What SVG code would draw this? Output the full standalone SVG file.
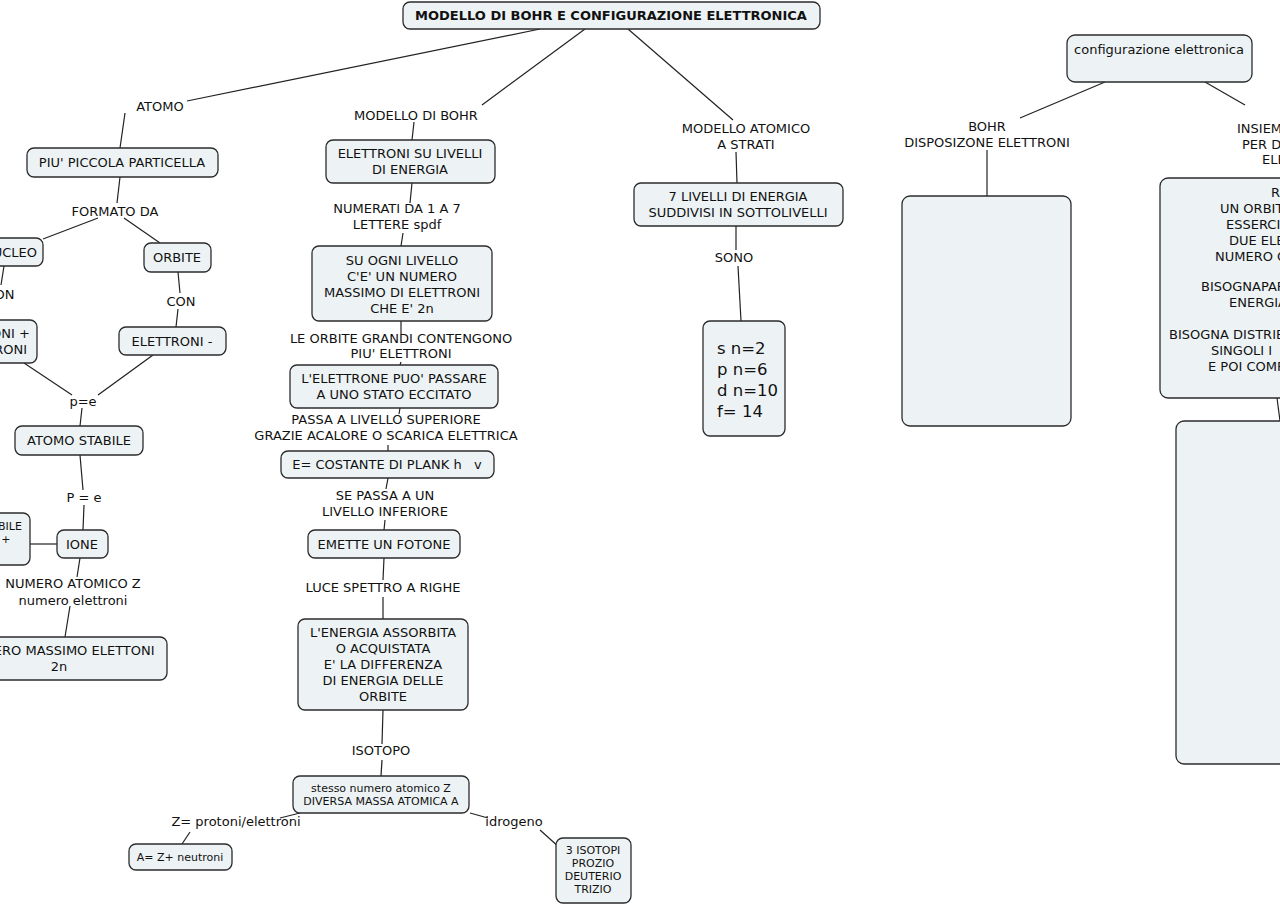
<svg xmlns="http://www.w3.org/2000/svg" width="1280" height="905" viewBox="0 0 1280 905">
<style>
.n{fill:#edf3f5;stroke:#2b2b2b;stroke-width:1.3}
text{font-family:"DejaVu Sans",Verdana,sans-serif;font-size:13px;fill:#111;text-anchor:middle}
.s{font-size:11px}
.b{font-weight:bold;font-size:13px}
.big{font-size:16.5px;text-anchor:start}
.st{text-anchor:start}
#c line{stroke:#222;stroke-width:1.2}
</style>
<rect width="1280" height="905" fill="#fff"/>
<g id="c">
<line x1="540" y1="29" x2="187" y2="101"/><line x1="125" y1="113" x2="120" y2="148"/>
<line x1="585" y1="29" x2="482" y2="105"/><line x1="414" y1="122" x2="412" y2="140"/>
<line x1="628" y1="29" x2="733" y2="120"/><line x1="736" y1="152" x2="737" y2="183"/>
<line x1="120" y1="177" x2="117" y2="203"/><line x1="98" y1="218" x2="43" y2="239"/><line x1="124" y1="218" x2="160" y2="243"/>
<line x1="4" y1="266" x2="1" y2="285"/>
<line x1="178" y1="272" x2="180" y2="293"/><line x1="178" y1="309" x2="176" y2="327"/>
<line x1="24" y1="363" x2="72" y2="395"/><line x1="153" y1="355" x2="98" y2="395"/>
<line x1="82" y1="408" x2="80" y2="426"/>
<line x1="80" y1="455" x2="83" y2="490"/><line x1="84" y1="505" x2="83" y2="530"/>
<line x1="57" y1="544" x2="30" y2="544"/>
<line x1="80" y1="558" x2="77" y2="577"/><line x1="70" y1="606" x2="65" y2="637"/>
<line x1="412" y1="183" x2="410" y2="203"/><line x1="403" y1="233" x2="401" y2="246"/>
<line x1="401" y1="321" x2="401" y2="334"/><line x1="401" y1="362" x2="400" y2="365"/>
<line x1="400" y1="408" x2="399" y2="414"/><line x1="388" y1="445" x2="388" y2="451"/>
<line x1="388" y1="478" x2="386" y2="489"/><line x1="385" y1="520" x2="384" y2="530"/>
<line x1="384" y1="558" x2="383" y2="580"/><line x1="383" y1="597" x2="383" y2="619"/>
<line x1="383" y1="710" x2="382" y2="744"/><line x1="382" y1="760" x2="381" y2="776"/>
<line x1="300" y1="813" x2="280" y2="818"/><line x1="190" y1="832" x2="182" y2="844"/>
<line x1="470" y1="813" x2="488" y2="818"/><line x1="540" y1="830" x2="560" y2="848"/>
<line x1="736" y1="226" x2="736" y2="250"/><line x1="738" y1="266" x2="741" y2="321"/>
<line x1="1105" y1="82" x2="1020" y2="118"/><line x1="1205" y1="82" x2="1245" y2="105"/>
<line x1="987" y1="150" x2="987" y2="196"/><line x1="1277" y1="398" x2="1280" y2="421"/>
</g>
<g id="title"><rect class="n" x="403" y="2" width="417" height="27" rx="7"/><text class="b" x="611" y="20">MODELLO DI BOHR E CONFIGURAZIONE ELETTRONICA</text></g>
<g id="labels">
<text x="160" y="111">ATOMO</text>
<text x="416" y="120">MODELLO DI BOHR</text>
<text x="746" y="133">MODELLO ATOMICO</text><text x="746" y="149">A STRATI</text>
<text x="987" y="131">BOHR</text><text x="987" y="147">DISPOSIZONE ELETTRONI</text>
<text class="st" x="1237" y="133">INSIEME DI REGOLE</text><text class="st" x="1242" y="149">PER DISPORRE GLI</text><text class="st" x="1262" y="164">ELETTRONI</text>
<text x="115" y="216">FORMATO DA</text>
<text x="0" y="299">CON</text><text x="181" y="306">CON</text>
<text x="83" y="406">p=e</text>
<text x="84" y="502">P = e</text>
<text x="73" y="588">NUMERO ATOMICO Z</text><text x="73" y="605">numero elettroni</text>
<text x="397" y="213">NUMERATI DA 1 A 7</text><text x="397" y="229">LETTERE spdf</text>
<text x="401" y="343">LE ORBITE GRANDI CONTENGONO</text><text x="401" y="358">PIU' ELETTRONI</text>
<text x="386" y="424">PASSA A LIVELLO SUPERIORE</text><text x="386" y="440">GRAZIE  ACALORE O SCARICA ELETTRICA</text>
<text x="385" y="500">SE PASSA A UN</text><text x="385" y="516">LIVELLO INFERIORE</text>
<text x="383" y="592">LUCE  SPETTRO A RIGHE</text>
<text x="381" y="755">ISOTOPO</text>
<text x="236" y="826">Z= protoni/elettroni</text>
<text x="514" y="826">idrogeno</text>
<text x="734" y="262">SONO</text>
</g>
<g id="n1"><rect class="n" x="27" y="148" width="191" height="29" rx="7"/><text x="122" y="167">PIU' PICCOLA PARTICELLA</text></g>
<g id="n2"><rect class="n" x="-20" y="238" width="63" height="28" rx="7"/><text x="10" y="257">NUCLEO</text></g>
<g id="n3"><rect class="n" x="144" y="243" width="67" height="29" rx="7"/><text x="177" y="262">ORBITE</text></g>
<g id="n4"><rect class="n" x="-50" y="320" width="87" height="43" rx="7"/><text x="-7" y="338">PROTONI +</text><text x="-7" y="354">NEUTRONI</text></g>
<g id="n5"><rect class="n" x="119" y="327" width="107" height="28" rx="7"/><text x="172" y="346">ELETTRONI -</text></g>
<g id="n6"><rect class="n" x="15" y="426" width="128" height="29" rx="7"/><text x="79" y="445">ATOMO STABILE</text></g>
<g id="n7"><rect class="n" x="-40" y="513" width="70" height="52" rx="7"/><text class="s" x="-6" y="530">INSTABILE</text><text class="s" x="-6" y="543">ION +</text></g>
<g id="n8"><rect class="n" x="57" y="530" width="51" height="28" rx="7"/><text x="82" y="549">IONE</text></g>
<g id="n9"><rect class="n" x="-49" y="637" width="216" height="43" rx="7"/><text x="59" y="655">NUMERO MASSIMO ELETTONI</text><text x="59" y="671">2n</text></g>
<g id="m1"><rect class="n" x="326" y="140" width="169" height="43" rx="7"/><text x="410" y="158">ELETTRONI SU LIVELLI</text><text x="410" y="174">DI ENERGIA</text></g>
<g id="m2"><rect class="n" x="312" y="246" width="180" height="75" rx="7"/><text x="402" y="265">SU OGNI LIVELLO</text><text x="402" y="281">C'E' UN NUMERO</text><text x="402" y="297">MASSIMO DI ELETTRONI</text><text x="402" y="313">CHE E' 2n</text></g>
<g id="m3"><rect class="n" x="290" y="365" width="208" height="43" rx="7"/><text x="394" y="383">L'ELETTRONE PUO' PASSARE</text><text x="394" y="399">A UNO STATO ECCITATO</text></g>
<g id="m4"><rect class="n" x="281" y="451" width="213" height="27" rx="7"/><text x="387" y="469" xml:space="preserve">E= COSTANTE DI PLANK h   v</text></g>
<g id="m5"><rect class="n" x="308" y="530" width="152" height="28" rx="7"/><text x="384" y="549">EMETTE UN FOTONE</text></g>
<g id="m6"><rect class="n" x="298" y="619" width="170" height="91" rx="7"/><text x="383" y="637">L'ENERGIA ASSORBITA</text><text x="383" y="653">O ACQUISTATA</text><text x="383" y="669">E' LA DIFFERENZA</text><text x="383" y="685">DI ENERGIA DELLE</text><text x="383" y="701">ORBITE</text></g>
<g id="m7"><rect class="n" x="293" y="776" width="176" height="37" rx="7"/><text class="s" x="381" y="792">stesso numero atomico Z</text><text class="s" x="381" y="805">DIVERSA MASSA ATOMICA A</text></g>
<g id="m8"><rect class="n" x="129" y="844" width="103" height="26" rx="7"/><text class="s" x="180" y="861">A= Z+ neutroni</text></g>
<g id="m9"><rect class="n" x="556" y="838" width="75" height="65" rx="7"/><text class="s" x="593" y="854">3 ISOTOPI</text><text class="s" x="593" y="867">PROZIO</text><text class="s" x="593" y="880">DEUTERIO</text><text class="s" x="593" y="893">TRIZIO</text></g>
<g id="r1"><rect class="n" x="634" y="183" width="209" height="43" rx="7"/><text x="738" y="201">7 LIVELLI DI ENERGIA</text><text x="738" y="217">SUDDIVISI IN SOTTOLIVELLI</text></g>
<g id="r2"><rect class="n" x="703" y="321" width="82" height="115" rx="7"/><text class="big" x="717" y="354">s n=2</text><text class="big" x="717" y="375">p n=6</text><text class="big" x="717" y="396">d n=10</text><text class="big" x="717" y="417">f= 14</text></g>
<g id="k1"><rect class="n" x="1067" y="35" width="185" height="47" rx="8"/><text x="1159" y="54">configurazione elettronica</text></g>
<g id="k2"><rect class="n" x="902" y="196" width="169" height="230" rx="8"/></g>
<g id="k3"><rect class="n" x="1160" y="178" width="150" height="220" rx="8"/>
<text class="st" x="1271" y="197">REGOLE</text><text class="st" x="1220" y="213">UN ORBITALE PUO'</text><text class="st" x="1226" y="229">ESSERCI AL MASSIMO</text><text class="st" x="1229" y="245">DUE ELETTRONI</text><text class="st" x="1215" y="261">NUMERO QUANTICO</text>
<text class="st" x="1201" y="291">BISOGNAPARTIRE</text><text class="st" x="1229" y="307">ENERGIA</text>
<text class="st" x="1169" y="339">BISOGNA DISTRIBUIRE</text><text class="st" x="1211" y="355">SINGOLI I</text><text class="st" x="1208" y="371">E POI COMPLETARE</text></g>
<g id="k4"><rect class="n" x="1176" y="421" width="130" height="343" rx="8"/></g>
</svg>
